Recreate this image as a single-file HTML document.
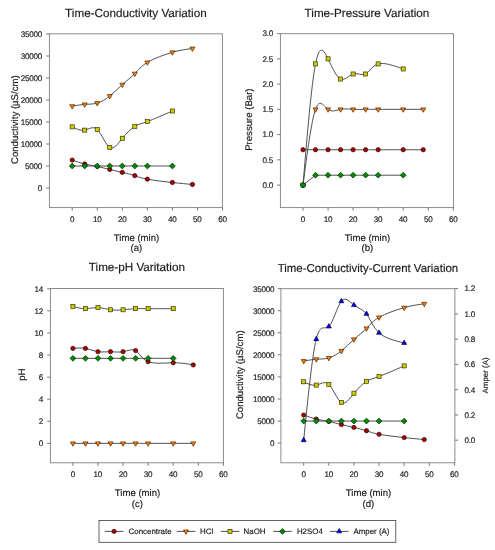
<!DOCTYPE html>
<html><head><meta charset="utf-8"><title>Time variation charts</title>
<style>html,body{margin:0;padding:0;background:#fff}svg{display:block}text{font-family:"Liberation Sans", sans-serif;stroke:#1a1a1a;stroke-width:0.16px;text-rendering:geometricPrecision}</style>
</head><body>
<svg width="495" height="550" viewBox="0 0 495 550" font-family='"Liberation Sans", sans-serif'>
<rect width="495" height="550" fill="#fff"/>
<rect x="49.4" y="33.8" width="173" height="173.8" fill="none" stroke="#808080" stroke-width="0.9"/>
<path d="M72.2 207.6v3M97.25 207.6v3M122.3 207.6v3M147.35 207.6v3M172.4 207.6v3M197.45 207.6v3M222.5 207.6v3M49.4 188h-3.2M49.4 166h-3.2M49.4 144h-3.2M49.4 122h-3.2M49.4 100h-3.2M49.4 78h-3.2M49.4 56h-3.2M49.4 34h-3.2" fill="none" stroke="#6a6a6a" stroke-width="0.9"/>
<text x="72.1" y="222.2" font-size="8.1" text-anchor="middle" fill="#1a1a1a" letter-spacing="-0.25">0</text>
<text x="97.15" y="222.2" font-size="8.1" text-anchor="middle" fill="#1a1a1a" letter-spacing="-0.25">10</text>
<text x="122.2" y="222.2" font-size="8.1" text-anchor="middle" fill="#1a1a1a" letter-spacing="-0.25">20</text>
<text x="147.25" y="222.2" font-size="8.1" text-anchor="middle" fill="#1a1a1a" letter-spacing="-0.25">30</text>
<text x="172.3" y="222.2" font-size="8.1" text-anchor="middle" fill="#1a1a1a" letter-spacing="-0.25">40</text>
<text x="197.35" y="222.2" font-size="8.1" text-anchor="middle" fill="#1a1a1a" letter-spacing="-0.25">50</text>
<text x="222.4" y="222.2" font-size="8.1" text-anchor="middle" fill="#1a1a1a" letter-spacing="-0.25">60</text>
<text x="42.1" y="190.85" font-size="8.1" text-anchor="end" fill="#1a1a1a" letter-spacing="-0.25">0</text>
<text x="42.1" y="168.85" font-size="8.1" text-anchor="end" fill="#1a1a1a" letter-spacing="-0.25">5000</text>
<text x="42.1" y="146.85" font-size="8.1" text-anchor="end" fill="#1a1a1a" letter-spacing="-0.25">10000</text>
<text x="42.1" y="124.85" font-size="8.1" text-anchor="end" fill="#1a1a1a" letter-spacing="-0.25">15000</text>
<text x="42.1" y="102.85" font-size="8.1" text-anchor="end" fill="#1a1a1a" letter-spacing="-0.25">20000</text>
<text x="42.1" y="80.85" font-size="8.1" text-anchor="end" fill="#1a1a1a" letter-spacing="-0.25">25000</text>
<text x="42.1" y="58.85" font-size="8.1" text-anchor="end" fill="#1a1a1a" letter-spacing="-0.25">30000</text>
<text x="42.1" y="36.85" font-size="8.1" text-anchor="end" fill="#1a1a1a" letter-spacing="-0.25">35000</text>
<text x="135.9" y="16.7" font-size="11.7" text-anchor="middle" fill="#1a1a1a">Time-Conductivity Variation</text>
<text x="136.5" y="240.6" font-size="9.6" text-anchor="middle" fill="#1a1a1a">Time (min)</text>
<text x="136.4" y="251.4" font-size="9.6" text-anchor="middle" fill="#1a1a1a">(a)</text>
<text x="18" y="119.7" font-size="9.6" text-anchor="middle" fill="#1a1a1a" transform="rotate(-90 18 119.7)">Conductivity (µS/cm)</text>
<path d="M72.2 160.06C76.38 161.54 80.55 163.01 84.72 164.02C88.9 165.03 93.06 165.57 97.25 166.44C101.44 167.31 105.64 168.5 109.78 169.52C113.91 170.54 117.96 171.38 122.3 172.38C126.64 173.38 131.26 174.52 134.82 175.68C138.39 176.84 140.89 178.01 147.35 179.2C153.81 180.39 164.23 181.62 172.4 182.5C180.57 183.38 186.51 183.93 192.44 184.48" fill="none" stroke="#484848" stroke-width="0.95"/>
<circle cx="72.2" cy="160.06" r="2.15" fill="#aa0000" stroke="#200000" stroke-width="0.65"/>
<circle cx="84.72" cy="164.02" r="2.15" fill="#aa0000" stroke="#200000" stroke-width="0.65"/>
<circle cx="97.25" cy="166.44" r="2.15" fill="#aa0000" stroke="#200000" stroke-width="0.65"/>
<circle cx="109.78" cy="169.52" r="2.15" fill="#aa0000" stroke="#200000" stroke-width="0.65"/>
<circle cx="122.3" cy="172.38" r="2.15" fill="#aa0000" stroke="#200000" stroke-width="0.65"/>
<circle cx="134.82" cy="175.68" r="2.15" fill="#aa0000" stroke="#200000" stroke-width="0.65"/>
<circle cx="147.35" cy="179.2" r="2.15" fill="#aa0000" stroke="#200000" stroke-width="0.65"/>
<circle cx="172.4" cy="182.5" r="2.15" fill="#aa0000" stroke="#200000" stroke-width="0.65"/>
<circle cx="192.44" cy="184.48" r="2.15" fill="#aa0000" stroke="#200000" stroke-width="0.65"/>
<path d="M72.2 106.16C76.38 105.43 80.55 104.69 84.72 104.4C88.9 104.11 93.06 104.26 97.25 103.08C101.44 101.9 105.64 99.4 109.78 96.04C113.91 92.68 117.96 88.46 122.3 84.6C126.64 80.74 131.26 77.23 134.82 73.6C138.39 69.97 140.89 66.22 147.35 62.38C153.81 58.54 164.23 54.63 172.4 52.3C180.57 49.98 186.51 49.25 192.44 48.52" fill="none" stroke="#484848" stroke-width="0.95"/>
<path d="M69.7 104.69H74.7L72.2 109.09Z" fill="#ff7f00" stroke="#3a1c00" stroke-width="0.65"/>
<path d="M82.22 102.93H87.22L84.72 107.33Z" fill="#ff7f00" stroke="#3a1c00" stroke-width="0.65"/>
<path d="M94.75 101.61H99.75L97.25 106.01Z" fill="#ff7f00" stroke="#3a1c00" stroke-width="0.65"/>
<path d="M107.28 94.57H112.28L109.78 98.97Z" fill="#ff7f00" stroke="#3a1c00" stroke-width="0.65"/>
<path d="M119.8 83.13H124.8L122.3 87.53Z" fill="#ff7f00" stroke="#3a1c00" stroke-width="0.65"/>
<path d="M132.32 72.13H137.32L134.82 76.53Z" fill="#ff7f00" stroke="#3a1c00" stroke-width="0.65"/>
<path d="M144.85 60.91H149.85L147.35 65.31Z" fill="#ff7f00" stroke="#3a1c00" stroke-width="0.65"/>
<path d="M169.9 50.84H174.9L172.4 55.24Z" fill="#ff7f00" stroke="#3a1c00" stroke-width="0.65"/>
<path d="M189.94 47.05H194.94L192.44 51.45Z" fill="#ff7f00" stroke="#3a1c00" stroke-width="0.65"/>
<path d="M72.2 126.84C76.38 128.91 80.55 130.98 84.72 130.14C88.9 129.3 93.06 125.57 97.25 129.48C101.44 133.39 105.64 144.96 109.78 147.52C113.91 150.08 117.99 143.63 122.3 138.28C126.61 132.93 131.17 128.68 134.82 126.4C138.48 124.12 141.24 123.8 147.35 121.56C153.46 119.32 162.93 115.16 172.4 111" fill="none" stroke="#484848" stroke-width="0.95"/>
<rect x="70.15" y="124.79" width="4.1" height="4.1" fill="#cccc00" stroke="#2e2e00" stroke-width="0.65"/>
<rect x="82.67" y="128.09" width="4.1" height="4.1" fill="#cccc00" stroke="#2e2e00" stroke-width="0.65"/>
<rect x="95.2" y="127.43" width="4.1" height="4.1" fill="#cccc00" stroke="#2e2e00" stroke-width="0.65"/>
<rect x="107.73" y="145.47" width="4.1" height="4.1" fill="#cccc00" stroke="#2e2e00" stroke-width="0.65"/>
<rect x="120.25" y="136.23" width="4.1" height="4.1" fill="#cccc00" stroke="#2e2e00" stroke-width="0.65"/>
<rect x="132.77" y="124.35" width="4.1" height="4.1" fill="#cccc00" stroke="#2e2e00" stroke-width="0.65"/>
<rect x="145.3" y="119.51" width="4.1" height="4.1" fill="#cccc00" stroke="#2e2e00" stroke-width="0.65"/>
<rect x="170.35" y="108.95" width="4.1" height="4.1" fill="#cccc00" stroke="#2e2e00" stroke-width="0.65"/>
<path d="M72.2 166C76.38 166 80.55 166 84.72 166C88.9 166 93.06 166 97.25 166C101.44 166 105.64 166 109.78 166C113.91 166 117.99 166 122.3 166C126.61 166 131.17 166 134.82 166C138.48 166 141.24 166 147.35 166C153.46 166 162.93 166 172.4 166" fill="none" stroke="#484848" stroke-width="0.95"/>
<path d="M69.3 166L72.2 163.1L75.1 166L72.2 168.9Z" fill="#008a00" stroke="#002000" stroke-width="0.65"/>
<path d="M81.82 166L84.72 163.1L87.62 166L84.72 168.9Z" fill="#008a00" stroke="#002000" stroke-width="0.65"/>
<path d="M94.35 166L97.25 163.1L100.15 166L97.25 168.9Z" fill="#008a00" stroke="#002000" stroke-width="0.65"/>
<path d="M106.88 166L109.78 163.1L112.68 166L109.78 168.9Z" fill="#008a00" stroke="#002000" stroke-width="0.65"/>
<path d="M119.4 166L122.3 163.1L125.2 166L122.3 168.9Z" fill="#008a00" stroke="#002000" stroke-width="0.65"/>
<path d="M131.92 166L134.82 163.1L137.72 166L134.82 168.9Z" fill="#008a00" stroke="#002000" stroke-width="0.65"/>
<path d="M144.45 166L147.35 163.1L150.25 166L147.35 168.9Z" fill="#008a00" stroke="#002000" stroke-width="0.65"/>
<path d="M169.5 166L172.4 163.1L175.3 166L172.4 168.9Z" fill="#008a00" stroke="#002000" stroke-width="0.65"/>
<rect x="280.4" y="33.7" width="173.1" height="173.9" fill="none" stroke="#808080" stroke-width="0.9"/>
<path d="M303 207.6v3M328.05 207.6v3M353.1 207.6v3M378.15 207.6v3M403.2 207.6v3M428.25 207.6v3M453.3 207.6v3M280.4 185.1h-3.2M280.4 159.85h-3.2M280.4 134.6h-3.2M280.4 109.35h-3.2M280.4 84.1h-3.2M280.4 58.85h-3.2M280.4 33.6h-3.2" fill="none" stroke="#6a6a6a" stroke-width="0.9"/>
<text x="302.9" y="222.2" font-size="8.1" text-anchor="middle" fill="#1a1a1a" letter-spacing="-0.25">0</text>
<text x="327.95" y="222.2" font-size="8.1" text-anchor="middle" fill="#1a1a1a" letter-spacing="-0.25">10</text>
<text x="353" y="222.2" font-size="8.1" text-anchor="middle" fill="#1a1a1a" letter-spacing="-0.25">20</text>
<text x="378.05" y="222.2" font-size="8.1" text-anchor="middle" fill="#1a1a1a" letter-spacing="-0.25">30</text>
<text x="403.1" y="222.2" font-size="8.1" text-anchor="middle" fill="#1a1a1a" letter-spacing="-0.25">40</text>
<text x="428.15" y="222.2" font-size="8.1" text-anchor="middle" fill="#1a1a1a" letter-spacing="-0.25">50</text>
<text x="453.2" y="222.2" font-size="8.1" text-anchor="middle" fill="#1a1a1a" letter-spacing="-0.25">60</text>
<text x="273.1" y="187.95" font-size="8.1" text-anchor="end" fill="#1a1a1a" letter-spacing="-0.25">0.0</text>
<text x="273.1" y="162.7" font-size="8.1" text-anchor="end" fill="#1a1a1a" letter-spacing="-0.25">0.5</text>
<text x="273.1" y="137.45" font-size="8.1" text-anchor="end" fill="#1a1a1a" letter-spacing="-0.25">1.0</text>
<text x="273.1" y="112.2" font-size="8.1" text-anchor="end" fill="#1a1a1a" letter-spacing="-0.25">1.5</text>
<text x="273.1" y="86.95" font-size="8.1" text-anchor="end" fill="#1a1a1a" letter-spacing="-0.25">2.0</text>
<text x="273.1" y="61.7" font-size="8.1" text-anchor="end" fill="#1a1a1a" letter-spacing="-0.25">2.5</text>
<text x="273.1" y="36.45" font-size="8.1" text-anchor="end" fill="#1a1a1a" letter-spacing="-0.25">3.0</text>
<text x="366.95" y="16.6" font-size="11.7" text-anchor="middle" fill="#1a1a1a">Time-Pressure Variation</text>
<text x="367.55" y="240.6" font-size="9.6" text-anchor="middle" fill="#1a1a1a">Time (min)</text>
<text x="367.45" y="251.4" font-size="9.6" text-anchor="middle" fill="#1a1a1a">(b)</text>
<text x="252.5" y="119.65" font-size="9.6" text-anchor="middle" fill="#1a1a1a" transform="rotate(-90 252.5 119.65)">Pressure (Bar)</text>
<path d="M303 149.75C307.18 149.75 311.35 149.75 315.52 149.75C319.7 149.75 323.86 149.75 328.05 149.75C332.24 149.75 336.44 149.75 340.57 149.75C344.71 149.75 348.76 149.75 353.1 149.75C357.44 149.75 362.06 149.75 365.62 149.75C369.19 149.75 371.69 149.75 378.15 149.75C384.61 149.75 395.03 149.75 403.2 149.75C411.37 149.75 417.31 149.75 423.24 149.75" fill="none" stroke="#484848" stroke-width="0.95"/>
<circle cx="303" cy="149.75" r="2.15" fill="#aa0000" stroke="#200000" stroke-width="0.65"/>
<circle cx="315.52" cy="149.75" r="2.15" fill="#aa0000" stroke="#200000" stroke-width="0.65"/>
<circle cx="328.05" cy="149.75" r="2.15" fill="#aa0000" stroke="#200000" stroke-width="0.65"/>
<circle cx="340.57" cy="149.75" r="2.15" fill="#aa0000" stroke="#200000" stroke-width="0.65"/>
<circle cx="353.1" cy="149.75" r="2.15" fill="#aa0000" stroke="#200000" stroke-width="0.65"/>
<circle cx="365.62" cy="149.75" r="2.15" fill="#aa0000" stroke="#200000" stroke-width="0.65"/>
<circle cx="378.15" cy="149.75" r="2.15" fill="#aa0000" stroke="#200000" stroke-width="0.65"/>
<circle cx="403.2" cy="149.75" r="2.15" fill="#aa0000" stroke="#200000" stroke-width="0.65"/>
<circle cx="423.24" cy="149.75" r="2.15" fill="#aa0000" stroke="#200000" stroke-width="0.65"/>
<path d="M303 185.1C307.18 153.08 311.35 121.07 315.52 109.35C319.7 97.63 323.86 106.21 328.05 109.35C332.24 112.49 336.44 110.19 340.57 109.35C344.71 108.51 348.76 109.12 353.1 109.35C357.44 109.58 362.06 109.41 365.62 109.35C369.19 109.29 371.69 109.33 378.15 109.35C384.61 109.37 395.03 109.35 403.2 109.35C411.37 109.35 417.31 109.35 423.24 109.35" fill="none" stroke="#484848" stroke-width="0.95"/>
<path d="M300.5 183.63H305.5L303 188.03Z" fill="#ff7f00" stroke="#3a1c00" stroke-width="0.65"/>
<path d="M313.02 107.88H318.02L315.52 112.28Z" fill="#ff7f00" stroke="#3a1c00" stroke-width="0.65"/>
<path d="M325.55 107.88H330.55L328.05 112.28Z" fill="#ff7f00" stroke="#3a1c00" stroke-width="0.65"/>
<path d="M338.07 107.88H343.07L340.57 112.28Z" fill="#ff7f00" stroke="#3a1c00" stroke-width="0.65"/>
<path d="M350.6 107.88H355.6L353.1 112.28Z" fill="#ff7f00" stroke="#3a1c00" stroke-width="0.65"/>
<path d="M363.12 107.88H368.12L365.62 112.28Z" fill="#ff7f00" stroke="#3a1c00" stroke-width="0.65"/>
<path d="M375.65 107.88H380.65L378.15 112.28Z" fill="#ff7f00" stroke="#3a1c00" stroke-width="0.65"/>
<path d="M400.7 107.88H405.7L403.2 112.28Z" fill="#ff7f00" stroke="#3a1c00" stroke-width="0.65"/>
<path d="M420.74 107.88H425.74L423.24 112.28Z" fill="#ff7f00" stroke="#3a1c00" stroke-width="0.65"/>
<path d="M303 185.1C307.18 135.11 311.35 85.11 315.52 63.9C319.7 42.69 323.86 50.25 328.05 58.85C332.24 67.45 336.44 77.09 340.57 79.05C344.71 81.01 348.79 75.31 353.1 74C357.41 72.69 361.97 75.78 365.62 74C369.28 72.22 372.04 65.55 378.15 63.9C384.26 62.25 393.73 65.6 403.2 68.95" fill="none" stroke="#484848" stroke-width="0.95"/>
<rect x="300.95" y="183.05" width="4.1" height="4.1" fill="#cccc00" stroke="#2e2e00" stroke-width="0.65"/>
<rect x="313.47" y="61.85" width="4.1" height="4.1" fill="#cccc00" stroke="#2e2e00" stroke-width="0.65"/>
<rect x="326" y="56.8" width="4.1" height="4.1" fill="#cccc00" stroke="#2e2e00" stroke-width="0.65"/>
<rect x="338.52" y="77" width="4.1" height="4.1" fill="#cccc00" stroke="#2e2e00" stroke-width="0.65"/>
<rect x="351.05" y="71.95" width="4.1" height="4.1" fill="#cccc00" stroke="#2e2e00" stroke-width="0.65"/>
<rect x="363.57" y="71.95" width="4.1" height="4.1" fill="#cccc00" stroke="#2e2e00" stroke-width="0.65"/>
<rect x="376.1" y="61.85" width="4.1" height="4.1" fill="#cccc00" stroke="#2e2e00" stroke-width="0.65"/>
<rect x="401.15" y="66.9" width="4.1" height="4.1" fill="#cccc00" stroke="#2e2e00" stroke-width="0.65"/>
<path d="M303 185.1 L315.52 175.2 L328.05 175.2 L340.57 175.2 L353.1 175.2 L365.62 175.2 L378.15 175.2 L403.2 175.2" fill="none" stroke="#484848" stroke-width="0.95"/>
<path d="M300.1 185.1L303 182.2L305.9 185.1L303 188Z" fill="#008a00" stroke="#002000" stroke-width="0.65"/>
<path d="M312.62 175.2L315.52 172.3L318.42 175.2L315.52 178.1Z" fill="#008a00" stroke="#002000" stroke-width="0.65"/>
<path d="M325.15 175.2L328.05 172.3L330.95 175.2L328.05 178.1Z" fill="#008a00" stroke="#002000" stroke-width="0.65"/>
<path d="M337.68 175.2L340.57 172.3L343.47 175.2L340.57 178.1Z" fill="#008a00" stroke="#002000" stroke-width="0.65"/>
<path d="M350.2 175.2L353.1 172.3L356 175.2L353.1 178.1Z" fill="#008a00" stroke="#002000" stroke-width="0.65"/>
<path d="M362.73 175.2L365.62 172.3L368.52 175.2L365.62 178.1Z" fill="#008a00" stroke="#002000" stroke-width="0.65"/>
<path d="M375.25 175.2L378.15 172.3L381.05 175.2L378.15 178.1Z" fill="#008a00" stroke="#002000" stroke-width="0.65"/>
<path d="M400.3 175.2L403.2 172.3L406.1 175.2L403.2 178.1Z" fill="#008a00" stroke="#002000" stroke-width="0.65"/>
<rect x="50.4" y="288.5" width="173" height="174.3" fill="none" stroke="#808080" stroke-width="0.9"/>
<path d="M72.9 462.8v3M97.98 462.8v3M123.06 462.8v3M148.14 462.8v3M173.22 462.8v3M198.3 462.8v3M223.38 462.8v3M50.4 443.35h-3.2M50.4 421.27h-3.2M50.4 399.19h-3.2M50.4 377.11h-3.2M50.4 355.03h-3.2M50.4 332.95h-3.2M50.4 310.87h-3.2M50.4 288.79h-3.2" fill="none" stroke="#6a6a6a" stroke-width="0.9"/>
<text x="72.8" y="477.4" font-size="8.1" text-anchor="middle" fill="#1a1a1a" letter-spacing="-0.25">0</text>
<text x="97.88" y="477.4" font-size="8.1" text-anchor="middle" fill="#1a1a1a" letter-spacing="-0.25">10</text>
<text x="122.96" y="477.4" font-size="8.1" text-anchor="middle" fill="#1a1a1a" letter-spacing="-0.25">20</text>
<text x="148.04" y="477.4" font-size="8.1" text-anchor="middle" fill="#1a1a1a" letter-spacing="-0.25">30</text>
<text x="173.12" y="477.4" font-size="8.1" text-anchor="middle" fill="#1a1a1a" letter-spacing="-0.25">40</text>
<text x="198.2" y="477.4" font-size="8.1" text-anchor="middle" fill="#1a1a1a" letter-spacing="-0.25">50</text>
<text x="223.28" y="477.4" font-size="8.1" text-anchor="middle" fill="#1a1a1a" letter-spacing="-0.25">60</text>
<text x="43.1" y="446.2" font-size="8.1" text-anchor="end" fill="#1a1a1a" letter-spacing="-0.25">0</text>
<text x="43.1" y="424.12" font-size="8.1" text-anchor="end" fill="#1a1a1a" letter-spacing="-0.25">2</text>
<text x="43.1" y="402.04" font-size="8.1" text-anchor="end" fill="#1a1a1a" letter-spacing="-0.25">4</text>
<text x="43.1" y="379.96" font-size="8.1" text-anchor="end" fill="#1a1a1a" letter-spacing="-0.25">6</text>
<text x="43.1" y="357.88" font-size="8.1" text-anchor="end" fill="#1a1a1a" letter-spacing="-0.25">8</text>
<text x="43.1" y="335.8" font-size="8.1" text-anchor="end" fill="#1a1a1a" letter-spacing="-0.25">10</text>
<text x="43.1" y="313.72" font-size="8.1" text-anchor="end" fill="#1a1a1a" letter-spacing="-0.25">12</text>
<text x="43.1" y="291.64" font-size="8.1" text-anchor="end" fill="#1a1a1a" letter-spacing="-0.25">14</text>
<text x="136.9" y="271.4" font-size="11.7" text-anchor="middle" fill="#1a1a1a">Time-pH Varitation</text>
<text x="137.5" y="495.8" font-size="9.6" text-anchor="middle" fill="#1a1a1a">Time (min)</text>
<text x="137.4" y="506.6" font-size="9.6" text-anchor="middle" fill="#1a1a1a">(c)</text>
<text x="25.2" y="374.65" font-size="9.6" text-anchor="middle" fill="#1a1a1a" transform="rotate(-90 25.2 374.65)">pH</text>
<path d="M72.9 348.41C77.08 348.02 81.26 347.64 85.44 348.41C89.62 349.17 93.79 351.09 97.98 351.72C102.17 352.34 106.38 351.67 110.52 351.72C114.66 351.76 118.72 352.52 123.06 351.72C127.4 350.92 132.03 348.57 135.6 350.61C139.17 352.66 141.67 359.11 148.14 361.65C154.61 364.2 165.04 362.86 173.22 362.76C181.4 362.66 187.34 363.81 193.28 364.97" fill="none" stroke="#484848" stroke-width="0.95"/>
<circle cx="72.9" cy="348.41" r="2.15" fill="#aa0000" stroke="#200000" stroke-width="0.65"/>
<circle cx="85.44" cy="348.41" r="2.15" fill="#aa0000" stroke="#200000" stroke-width="0.65"/>
<circle cx="97.98" cy="351.72" r="2.15" fill="#aa0000" stroke="#200000" stroke-width="0.65"/>
<circle cx="110.52" cy="351.72" r="2.15" fill="#aa0000" stroke="#200000" stroke-width="0.65"/>
<circle cx="123.06" cy="351.72" r="2.15" fill="#aa0000" stroke="#200000" stroke-width="0.65"/>
<circle cx="135.6" cy="350.61" r="2.15" fill="#aa0000" stroke="#200000" stroke-width="0.65"/>
<circle cx="148.14" cy="361.65" r="2.15" fill="#aa0000" stroke="#200000" stroke-width="0.65"/>
<circle cx="173.22" cy="362.76" r="2.15" fill="#aa0000" stroke="#200000" stroke-width="0.65"/>
<circle cx="193.28" cy="364.97" r="2.15" fill="#aa0000" stroke="#200000" stroke-width="0.65"/>
<path d="M72.9 443.35C77.08 443.35 81.26 443.35 85.44 443.35C89.62 443.35 93.79 443.35 97.98 443.35C102.17 443.35 106.38 443.35 110.52 443.35C114.66 443.35 118.72 443.35 123.06 443.35C127.4 443.35 132.03 443.35 135.6 443.35C139.17 443.35 141.67 443.35 148.14 443.35C154.61 443.35 165.04 443.35 173.22 443.35C181.4 443.35 187.34 443.35 193.28 443.35" fill="none" stroke="#484848" stroke-width="0.95"/>
<path d="M70.4 441.88H75.4L72.9 446.28Z" fill="#ff7f00" stroke="#3a1c00" stroke-width="0.65"/>
<path d="M82.94 441.88H87.94L85.44 446.28Z" fill="#ff7f00" stroke="#3a1c00" stroke-width="0.65"/>
<path d="M95.48 441.88H100.48L97.98 446.28Z" fill="#ff7f00" stroke="#3a1c00" stroke-width="0.65"/>
<path d="M108.02 441.88H113.02L110.52 446.28Z" fill="#ff7f00" stroke="#3a1c00" stroke-width="0.65"/>
<path d="M120.56 441.88H125.56L123.06 446.28Z" fill="#ff7f00" stroke="#3a1c00" stroke-width="0.65"/>
<path d="M133.1 441.88H138.1L135.6 446.28Z" fill="#ff7f00" stroke="#3a1c00" stroke-width="0.65"/>
<path d="M145.64 441.88H150.64L148.14 446.28Z" fill="#ff7f00" stroke="#3a1c00" stroke-width="0.65"/>
<path d="M170.72 441.88H175.72L173.22 446.28Z" fill="#ff7f00" stroke="#3a1c00" stroke-width="0.65"/>
<path d="M190.78 441.88H195.78L193.28 446.28Z" fill="#ff7f00" stroke="#3a1c00" stroke-width="0.65"/>
<path d="M72.9 306.45C77.08 307.58 81.26 308.7 85.44 308.66C89.62 308.62 93.79 307.43 97.98 307.56C102.17 307.69 106.38 309.15 110.52 309.77C114.66 310.38 118.74 310.15 123.06 309.77C127.38 309.39 131.94 308.86 135.6 308.66C139.26 308.47 142.02 308.61 148.14 308.66C154.26 308.72 163.74 308.69 173.22 308.66" fill="none" stroke="#484848" stroke-width="0.95"/>
<rect x="70.85" y="304.4" width="4.1" height="4.1" fill="#cccc00" stroke="#2e2e00" stroke-width="0.65"/>
<rect x="83.39" y="306.61" width="4.1" height="4.1" fill="#cccc00" stroke="#2e2e00" stroke-width="0.65"/>
<rect x="95.93" y="305.51" width="4.1" height="4.1" fill="#cccc00" stroke="#2e2e00" stroke-width="0.65"/>
<rect x="108.47" y="307.72" width="4.1" height="4.1" fill="#cccc00" stroke="#2e2e00" stroke-width="0.65"/>
<rect x="121.01" y="307.72" width="4.1" height="4.1" fill="#cccc00" stroke="#2e2e00" stroke-width="0.65"/>
<rect x="133.55" y="306.61" width="4.1" height="4.1" fill="#cccc00" stroke="#2e2e00" stroke-width="0.65"/>
<rect x="146.09" y="306.61" width="4.1" height="4.1" fill="#cccc00" stroke="#2e2e00" stroke-width="0.65"/>
<rect x="171.17" y="306.61" width="4.1" height="4.1" fill="#cccc00" stroke="#2e2e00" stroke-width="0.65"/>
<path d="M72.9 358.34C77.08 358.34 81.26 358.34 85.44 358.34C89.62 358.34 93.79 358.34 97.98 358.34C102.17 358.34 106.38 358.34 110.52 358.34C114.66 358.34 118.74 358.34 123.06 358.34C127.38 358.34 131.94 358.34 135.6 358.34C139.26 358.34 142.02 358.34 148.14 358.34C154.26 358.34 163.74 358.34 173.22 358.34" fill="none" stroke="#484848" stroke-width="0.95"/>
<path d="M70 358.34L72.9 355.44L75.8 358.34L72.9 361.24Z" fill="#008a00" stroke="#002000" stroke-width="0.65"/>
<path d="M82.54 358.34L85.44 355.44L88.34 358.34L85.44 361.24Z" fill="#008a00" stroke="#002000" stroke-width="0.65"/>
<path d="M95.08 358.34L97.98 355.44L100.88 358.34L97.98 361.24Z" fill="#008a00" stroke="#002000" stroke-width="0.65"/>
<path d="M107.62 358.34L110.52 355.44L113.42 358.34L110.52 361.24Z" fill="#008a00" stroke="#002000" stroke-width="0.65"/>
<path d="M120.16 358.34L123.06 355.44L125.96 358.34L123.06 361.24Z" fill="#008a00" stroke="#002000" stroke-width="0.65"/>
<path d="M132.7 358.34L135.6 355.44L138.5 358.34L135.6 361.24Z" fill="#008a00" stroke="#002000" stroke-width="0.65"/>
<path d="M145.24 358.34L148.14 355.44L151.04 358.34L148.14 361.24Z" fill="#008a00" stroke="#002000" stroke-width="0.65"/>
<path d="M170.32 358.34L173.22 355.44L176.12 358.34L173.22 361.24Z" fill="#008a00" stroke="#002000" stroke-width="0.65"/>
<rect x="280.9" y="288.7" width="174" height="174.1" fill="none" stroke="#808080" stroke-width="0.9"/>
<path d="M303.7 462.8v3M328.82 462.8v3M353.94 462.8v3M379.06 462.8v3M404.18 462.8v3M429.3 462.8v3M454.42 462.8v3M280.9 443.1h-3.2M280.9 421.04h-3.2M280.9 398.98h-3.2M280.9 376.92h-3.2M280.9 354.86h-3.2M280.9 332.8h-3.2M280.9 310.74h-3.2M280.9 288.68h-3.2M454.9 440.2h3.2M454.9 414.94h3.2M454.9 389.68h3.2M454.9 364.42h3.2M454.9 339.16h3.2M454.9 313.9h3.2M454.9 288.64h3.2" fill="none" stroke="#6a6a6a" stroke-width="0.9"/>
<text x="303.6" y="477.4" font-size="8.1" text-anchor="middle" fill="#1a1a1a" letter-spacing="-0.25">0</text>
<text x="328.72" y="477.4" font-size="8.1" text-anchor="middle" fill="#1a1a1a" letter-spacing="-0.25">10</text>
<text x="353.84" y="477.4" font-size="8.1" text-anchor="middle" fill="#1a1a1a" letter-spacing="-0.25">20</text>
<text x="378.96" y="477.4" font-size="8.1" text-anchor="middle" fill="#1a1a1a" letter-spacing="-0.25">30</text>
<text x="404.08" y="477.4" font-size="8.1" text-anchor="middle" fill="#1a1a1a" letter-spacing="-0.25">40</text>
<text x="429.2" y="477.4" font-size="8.1" text-anchor="middle" fill="#1a1a1a" letter-spacing="-0.25">50</text>
<text x="454.32" y="477.4" font-size="8.1" text-anchor="middle" fill="#1a1a1a" letter-spacing="-0.25">60</text>
<text x="274.3" y="445.95" font-size="8.1" text-anchor="end" fill="#1a1a1a" letter-spacing="-0.25">0</text>
<text x="274.3" y="423.89" font-size="8.1" text-anchor="end" fill="#1a1a1a" letter-spacing="-0.25">5000</text>
<text x="274.3" y="401.83" font-size="8.1" text-anchor="end" fill="#1a1a1a" letter-spacing="-0.25">10000</text>
<text x="274.3" y="379.77" font-size="8.1" text-anchor="end" fill="#1a1a1a" letter-spacing="-0.25">15000</text>
<text x="274.3" y="357.71" font-size="8.1" text-anchor="end" fill="#1a1a1a" letter-spacing="-0.25">20000</text>
<text x="274.3" y="335.65" font-size="8.1" text-anchor="end" fill="#1a1a1a" letter-spacing="-0.25">25000</text>
<text x="274.3" y="313.59" font-size="8.1" text-anchor="end" fill="#1a1a1a" letter-spacing="-0.25">30000</text>
<text x="274.3" y="291.53" font-size="8.1" text-anchor="end" fill="#1a1a1a" letter-spacing="-0.25">35000</text>
<text x="464.5" y="443.05" font-size="8.1" text-anchor="start" fill="#1a1a1a" letter-spacing="-0.25">0.0</text>
<text x="464.5" y="417.79" font-size="8.1" text-anchor="start" fill="#1a1a1a" letter-spacing="-0.25">0.2</text>
<text x="464.5" y="392.53" font-size="8.1" text-anchor="start" fill="#1a1a1a" letter-spacing="-0.25">0.4</text>
<text x="464.5" y="367.27" font-size="8.1" text-anchor="start" fill="#1a1a1a" letter-spacing="-0.25">0.6</text>
<text x="464.5" y="342.01" font-size="8.1" text-anchor="start" fill="#1a1a1a" letter-spacing="-0.25">0.8</text>
<text x="464.5" y="316.75" font-size="8.1" text-anchor="start" fill="#1a1a1a" letter-spacing="-0.25">1.0</text>
<text x="464.5" y="291.49" font-size="8.1" text-anchor="start" fill="#1a1a1a" letter-spacing="-0.25">1.2</text>
<text x="367.9" y="271.6" font-size="11.45" text-anchor="middle" fill="#1a1a1a">Time-Conductivity-Current Variation</text>
<text x="368.5" y="495.8" font-size="9.6" text-anchor="middle" fill="#1a1a1a">Time (min)</text>
<text x="368.4" y="506.6" font-size="9.6" text-anchor="middle" fill="#1a1a1a">(d)</text>
<text x="242.6" y="374.75" font-size="9.6" text-anchor="middle" fill="#1a1a1a" transform="rotate(-90 242.6 374.75)">Conductivity (µS/cm)</text>
<text x="488.2" y="375.45" font-size="7.9" text-anchor="middle" fill="#1a1a1a" transform="rotate(-90 488.2 375.45)">Amper (A)</text>
<path d="M303.7 415.08C307.89 416.56 312.08 418.04 316.26 419.05C320.44 420.07 324.62 420.61 328.82 421.48C333.02 422.35 337.24 423.55 341.38 424.57C345.52 425.59 349.59 426.44 353.94 427.44C358.29 428.44 362.93 429.59 366.5 430.75C370.07 431.91 372.58 433.08 379.06 434.28C385.54 435.47 395.98 436.7 404.18 437.59C412.38 438.47 418.33 439.02 424.28 439.57" fill="none" stroke="#484848" stroke-width="0.95"/>
<circle cx="303.7" cy="415.08" r="2.15" fill="#aa0000" stroke="#200000" stroke-width="0.65"/>
<circle cx="316.26" cy="419.05" r="2.15" fill="#aa0000" stroke="#200000" stroke-width="0.65"/>
<circle cx="328.82" cy="421.48" r="2.15" fill="#aa0000" stroke="#200000" stroke-width="0.65"/>
<circle cx="341.38" cy="424.57" r="2.15" fill="#aa0000" stroke="#200000" stroke-width="0.65"/>
<circle cx="353.94" cy="427.44" r="2.15" fill="#aa0000" stroke="#200000" stroke-width="0.65"/>
<circle cx="366.5" cy="430.75" r="2.15" fill="#aa0000" stroke="#200000" stroke-width="0.65"/>
<circle cx="379.06" cy="434.28" r="2.15" fill="#aa0000" stroke="#200000" stroke-width="0.65"/>
<circle cx="404.18" cy="437.59" r="2.15" fill="#aa0000" stroke="#200000" stroke-width="0.65"/>
<circle cx="424.28" cy="439.57" r="2.15" fill="#aa0000" stroke="#200000" stroke-width="0.65"/>
<path d="M303.7 361.04C307.89 360.3 312.08 359.56 316.26 359.27C320.44 358.98 324.62 359.13 328.82 357.95C333.02 356.77 337.24 354.26 341.38 350.89C345.52 347.52 349.59 343.3 353.94 339.42C358.29 335.54 362.93 332 366.5 328.39C370.07 324.77 372.58 321.07 379.06 317.36C385.54 313.64 395.98 309.91 404.18 307.65C412.38 305.39 418.33 304.6 424.28 303.81" fill="none" stroke="#484848" stroke-width="0.95"/>
<path d="M301.2 359.57H306.2L303.7 363.97Z" fill="#ff7f00" stroke="#3a1c00" stroke-width="0.65"/>
<path d="M313.76 357.81H318.76L316.26 362.21Z" fill="#ff7f00" stroke="#3a1c00" stroke-width="0.65"/>
<path d="M326.32 356.48H331.32L328.82 360.88Z" fill="#ff7f00" stroke="#3a1c00" stroke-width="0.65"/>
<path d="M338.88 349.42H343.88L341.38 353.82Z" fill="#ff7f00" stroke="#3a1c00" stroke-width="0.65"/>
<path d="M351.44 337.95H356.44L353.94 342.35Z" fill="#ff7f00" stroke="#3a1c00" stroke-width="0.65"/>
<path d="M364 326.92H369L366.5 331.32Z" fill="#ff7f00" stroke="#3a1c00" stroke-width="0.65"/>
<path d="M376.56 315.89H381.56L379.06 320.29Z" fill="#ff7f00" stroke="#3a1c00" stroke-width="0.65"/>
<path d="M401.68 306.18H406.68L404.18 310.58Z" fill="#ff7f00" stroke="#3a1c00" stroke-width="0.65"/>
<path d="M421.78 302.35H426.78L424.28 306.75Z" fill="#ff7f00" stroke="#3a1c00" stroke-width="0.65"/>
<path d="M303.7 381.77C307.89 383.85 312.08 385.92 316.26 385.08C320.44 384.24 324.62 380.5 328.82 384.42C333.02 388.35 337.23 399.94 341.38 402.51C345.53 405.08 349.61 398.61 353.94 393.24C358.27 387.88 362.83 383.62 366.5 381.33C370.17 379.04 372.93 378.72 379.06 376.48C385.19 374.23 394.68 370.06 404.18 365.89" fill="none" stroke="#484848" stroke-width="0.95"/>
<rect x="301.65" y="379.72" width="4.1" height="4.1" fill="#cccc00" stroke="#2e2e00" stroke-width="0.65"/>
<rect x="314.21" y="383.03" width="4.1" height="4.1" fill="#cccc00" stroke="#2e2e00" stroke-width="0.65"/>
<rect x="326.77" y="382.37" width="4.1" height="4.1" fill="#cccc00" stroke="#2e2e00" stroke-width="0.65"/>
<rect x="339.33" y="400.46" width="4.1" height="4.1" fill="#cccc00" stroke="#2e2e00" stroke-width="0.65"/>
<rect x="351.89" y="391.19" width="4.1" height="4.1" fill="#cccc00" stroke="#2e2e00" stroke-width="0.65"/>
<rect x="364.45" y="379.28" width="4.1" height="4.1" fill="#cccc00" stroke="#2e2e00" stroke-width="0.65"/>
<rect x="377.01" y="374.43" width="4.1" height="4.1" fill="#cccc00" stroke="#2e2e00" stroke-width="0.65"/>
<rect x="402.13" y="363.84" width="4.1" height="4.1" fill="#cccc00" stroke="#2e2e00" stroke-width="0.65"/>
<path d="M303.7 421.04C307.89 421.04 312.08 421.04 316.26 421.04C320.44 421.04 324.62 421.04 328.82 421.04C333.02 421.04 337.23 421.04 341.38 421.04C345.53 421.04 349.61 421.04 353.94 421.04C358.27 421.04 362.83 421.04 366.5 421.04C370.17 421.04 372.93 421.04 379.06 421.04C385.19 421.04 394.68 421.04 404.18 421.04" fill="none" stroke="#484848" stroke-width="0.95"/>
<path d="M300.8 421.04L303.7 418.14L306.6 421.04L303.7 423.94Z" fill="#008a00" stroke="#002000" stroke-width="0.65"/>
<path d="M313.36 421.04L316.26 418.14L319.16 421.04L316.26 423.94Z" fill="#008a00" stroke="#002000" stroke-width="0.65"/>
<path d="M325.92 421.04L328.82 418.14L331.72 421.04L328.82 423.94Z" fill="#008a00" stroke="#002000" stroke-width="0.65"/>
<path d="M338.48 421.04L341.38 418.14L344.28 421.04L341.38 423.94Z" fill="#008a00" stroke="#002000" stroke-width="0.65"/>
<path d="M351.04 421.04L353.94 418.14L356.84 421.04L353.94 423.94Z" fill="#008a00" stroke="#002000" stroke-width="0.65"/>
<path d="M363.6 421.04L366.5 418.14L369.4 421.04L366.5 423.94Z" fill="#008a00" stroke="#002000" stroke-width="0.65"/>
<path d="M376.16 421.04L379.06 418.14L381.96 421.04L379.06 423.94Z" fill="#008a00" stroke="#002000" stroke-width="0.65"/>
<path d="M401.28 421.04L404.18 418.14L407.08 421.04L404.18 423.94Z" fill="#008a00" stroke="#002000" stroke-width="0.65"/>
<path d="M303.7 440.2C307.89 398.14 312.08 356.08 316.26 339.16C320.44 322.24 324.62 330.47 328.82 326.53C333.02 322.59 337.23 306.47 341.38 301.27C345.53 296.07 349.61 301.79 353.94 305.06C358.27 308.33 362.83 309.15 366.5 313.9C370.17 318.65 372.93 327.35 379.06 332.85C385.19 338.34 394.68 340.65 404.18 342.95" fill="none" stroke="#484848" stroke-width="0.95"/>
<path d="M301.2 441.67H306.2L303.7 437.27Z" fill="#0000ff" stroke="#000030" stroke-width="0.65"/>
<path d="M313.76 340.63H318.76L316.26 336.23Z" fill="#0000ff" stroke="#000030" stroke-width="0.65"/>
<path d="M326.32 328H331.32L328.82 323.6Z" fill="#0000ff" stroke="#000030" stroke-width="0.65"/>
<path d="M338.88 302.74H343.88L341.38 298.34Z" fill="#0000ff" stroke="#000030" stroke-width="0.65"/>
<path d="M351.44 306.53H356.44L353.94 302.13Z" fill="#0000ff" stroke="#000030" stroke-width="0.65"/>
<path d="M364 315.37H369L366.5 310.97Z" fill="#0000ff" stroke="#000030" stroke-width="0.65"/>
<path d="M376.56 334.31H381.56L379.06 329.91Z" fill="#0000ff" stroke="#000030" stroke-width="0.65"/>
<path d="M401.68 344.42H406.68L404.18 340.02Z" fill="#0000ff" stroke="#000030" stroke-width="0.65"/>
<rect x="99" y="520.5" width="296.8" height="21.8" fill="#fff" stroke="#3c3c3c" stroke-width="0.8"/>
<path d="M104.9 531.4H123.5" stroke="#484848" stroke-width="0.95"/>
<circle cx="114.1" cy="531.4" r="2.15" fill="#aa0000" stroke="#200000" stroke-width="0.65"/>
<text x="128.6" y="534.2" font-size="7.9" text-anchor="start" fill="#1a1a1a">Concentrate</text>
<path d="M176.8 531.4H195.4" stroke="#484848" stroke-width="0.95"/>
<path d="M183.5 529.93H188.5L186 534.33Z" fill="#ff7f00" stroke="#3a1c00" stroke-width="0.65"/>
<text x="200" y="534.2" font-size="7.9" text-anchor="start" fill="#1a1a1a">HCl</text>
<path d="M220.8 531.4H239.4" stroke="#484848" stroke-width="0.95"/>
<rect x="227.95" y="529.35" width="4.1" height="4.1" fill="#cccc00" stroke="#2e2e00" stroke-width="0.65"/>
<text x="243.6" y="534.2" font-size="7.9" text-anchor="start" fill="#1a1a1a">NaOH</text>
<path d="M273.2 531.4H291.8" stroke="#484848" stroke-width="0.95"/>
<path d="M279.5 531.4L282.4 528.5L285.3 531.4L282.4 534.3Z" fill="#008a00" stroke="#002000" stroke-width="0.65"/>
<text x="296.9" y="534.2" font-size="7.9" text-anchor="start" fill="#1a1a1a">H2SO4</text>
<path d="M330 531.4H348.6" stroke="#484848" stroke-width="0.95"/>
<path d="M336.7 532.87H341.7L339.2 528.47Z" fill="#0000ff" stroke="#000030" stroke-width="0.65"/>
<text x="353.5" y="534.2" font-size="7.9" text-anchor="start" fill="#1a1a1a">Amper (A)</text>
</svg>
</body></html>
